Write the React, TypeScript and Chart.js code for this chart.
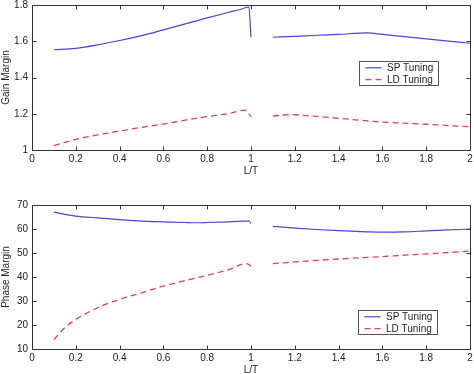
import React, { useEffect, useRef } from "react";
import { Chart, registerables } from "chart.js";

Chart.register(...registerables);

// ---------- data ----------
const gainSpX = [0.1, 0.2, 0.3, 0.4, 0.5, 0.6, 0.7, 0.8, 0.9, 0.95, 0.99, 1.0, 1.05, 1.1, 1.2, 1.3, 1.4, 1.53, 1.6, 1.7, 1.8, 1.9, 2.0];
const gainSpY = [1.553, 1.561, 1.58, 1.604, 1.631, 1.663, 1.696, 1.729, 1.76, 1.775, 1.789, 1.622, null, 1.622, 1.627, 1.633, 1.638, 1.646, 1.638, 1.625, 1.613, 1.601, 1.589];

const gainLdX = [0.1, 0.2, 0.3, 0.4, 0.5, 0.6, 0.7, 0.8, 0.9, 0.975, 1.0, 1.05, 1.1, 1.175, 1.3, 1.4, 1.5, 1.6, 1.7, 1.8, 1.9, 2.0];
const gainLdY = [1.024, 1.059, 1.083, 1.105, 1.125, 1.143, 1.165, 1.184, 1.202, 1.22, 1.184, null, 1.187, 1.195, 1.185, 1.175, 1.164, 1.154, 1.148, 1.142, 1.135, 1.128];

const phaseSpX = [0.1, 0.15, 0.2, 0.3, 0.4, 0.5, 0.6, 0.7, 0.75, 0.8, 0.9, 0.99, 1.0, 1.05, 1.1, 1.2, 1.3, 1.4, 1.5, 1.6, 1.7, 1.8, 1.9, 2.0];
const phaseSpY = [67.0, 66.1, 65.4, 64.6, 63.9, 63.3, 63.0, 62.7, 62.6, 62.7, 63.0, 63.4, 62.2, null, 61.1, 60.4, 59.8, 59.3, 58.9, 58.7, 58.8, 59.2, 59.6, 60.0];

const phaseLdX = [0.1, 0.15, 0.2, 0.3, 0.4, 0.5, 0.6, 0.7, 0.8, 0.9, 0.98, 1.0, 1.05, 1.1, 1.2, 1.3, 1.4, 1.5, 1.6, 1.7, 1.8, 1.9, 2.0];
const phaseLdY = [13.9, 18.9, 22.3, 27.2, 30.7, 33.4, 36.2, 38.5, 40.7, 43.1, 45.6, 44.6, null, 45.6, 46.3, 46.9, 47.5, 48.0, 48.5, 49.1, 49.6, 50.2, 50.8];

const seriesLabels = ["SP Tuning", "LD Tuning"];
const xTitle = "L/T";
const gainTitle = "Gain Margin";
const phaseTitle = "Phase Margin";

// ---------- styles ----------
const FONT = "'Liberation Sans', Arial, Helvetica, sans-serif";
const TEXT = "#222222";
const AXIS = "#333333";
const BLUE = "rgb(70,70,222)";
const RED = "rgb(228,62,88)";

const pts = (xs: number[], ys: (number | null)[]) => xs.map((x, i) => ({ x, y: ys[i] }));

const framePlugin = {
  id: "frame",
  afterDatasetsDraw(chart: any) {
    const { ctx, chartArea } = chart;
    const { left, top, right, bottom } = chartArea;
    const xs = chart.scales.x;
    const ys = chart.scales.y;
    const L = 4;
    ctx.save();
    ctx.strokeStyle = AXIS;
    ctx.lineWidth = 1;
    ctx.beginPath();
    const r = (v: number) => Math.round(v) + 0.5;
    ctx.rect(r(left), r(top), Math.round(right) - Math.round(left), Math.round(bottom) - Math.round(top));
    xs.ticks.forEach((t: any) => {
      const px = r(xs.getPixelForValue(t.value));
      ctx.moveTo(px, r(bottom));
      ctx.lineTo(px, r(bottom) - L);
      ctx.moveTo(px, r(top));
      ctx.lineTo(px, r(top) + L);
    });
    ys.ticks.forEach((t: any) => {
      const py = r(ys.getPixelForValue(t.value));
      ctx.moveTo(r(left), py);
      ctx.lineTo(r(left) + L, py);
      ctx.moveTo(r(right), py);
      ctx.lineTo(r(right) - L, py);
    });
    ctx.stroke();
    ctx.restore();
  },
};

const boxLegendPlugin = {
  id: "boxLegend",
  afterDraw(chart: any, _args: any, opts: any) {
    const { ctx, chartArea } = chart;
    const w = 79;
    const h = 24;
    const boxRight = chartArea.right - opts.right;
    const left = Math.round(boxRight - w) + 0.5;
    const top =
      opts.top !== undefined
        ? Math.round(chartArea.top + opts.top) + 0.5
        : Math.round(chartArea.bottom - opts.bottom - h) + 0.5;
    ctx.save();
    ctx.fillStyle = "#ffffff";
    ctx.fillRect(left, top, w, h);
    ctx.strokeStyle = "#555555";
    ctx.lineWidth = 1;
    ctx.strokeRect(left, top, w, h);
    chart.data.datasets.forEach((ds: any, i: number) => {
      const y = top + 6.3 + i * 11.8;
      ctx.beginPath();
      ctx.strokeStyle = ds.borderColor;
      ctx.lineWidth = ds.borderWidth;
      ctx.setLineDash(ds.borderDash || []);
      ctx.moveTo(left + 6, y);
      ctx.lineTo(left + 22, y);
      ctx.stroke();
      ctx.setLineDash([]);
      ctx.fillStyle = TEXT;
      ctx.font = `10px ${FONT}`;
      ctx.textBaseline = "middle";
      ctx.textAlign = "left";
      ctx.fillText(ds.label, left + 27.5, y + 0.5);
    });
    ctx.restore();
  },
};

function makeConfig(opts: {
  sp: { x: number; y: number | null }[];
  ld: { x: number; y: number | null }[];
  yMin: number;
  yMax: number;
  yStep: number;
  yTitle: string;
  padTop: number;
  padBottom: number;
  legend: any;
}) {
  const fmt = (v: any) => String(Math.round(Number(v) * 100) / 100);
  return {
    type: "line" as const,
    data: {
      datasets: [
        {
          label: seriesLabels[0],
          data: opts.sp,
          borderColor: BLUE,
          borderWidth: 1.2,
          pointRadius: 0,
          spanGaps: false,
          fill: false,
          cubicInterpolationMode: "monotone" as const,
        },
        {
          label: seriesLabels[1],
          data: opts.ld,
          borderColor: RED,
          borderWidth: 1.3,
          borderDash: [6, 4],
          pointRadius: 0,
          spanGaps: false,
          fill: false,
          cubicInterpolationMode: "monotone" as const,
        },
      ],
    },
    options: {
      animation: false as const,
      responsive: false,
      maintainAspectRatio: false,
      layout: { padding: { top: opts.padTop, bottom: opts.padBottom, left: 0, right: 4 } },
      plugins: {
        legend: { display: false },
        tooltip: { enabled: false },
        boxLegend: opts.legend,
      },
      scales: {
        x: {
          type: "linear" as const,
          min: 0,
          max: 2,
          ticks: {
            stepSize: 0.2,
            padding: 3,
            color: TEXT,
            font: { family: FONT, size: 10 },
            callback: fmt,
            maxRotation: 0,
            autoSkip: false,
          },
          grid: { display: false, drawTicks: false },
          border: { display: false },
          title: { display: true, text: xTitle, color: TEXT, font: { family: FONT, size: 10 }, padding: 0 },
          afterFit: (s: any) => {
            s.height = 27;
            s.paddingLeft = 0;
            s.paddingRight = 0;
          },
        },
        y: {
          type: "linear" as const,
          min: opts.yMin,
          max: opts.yMax,
          ticks: {
            stepSize: opts.yStep,
            padding: 4,
            color: TEXT,
            font: { family: FONT, size: 10 },
            callback: fmt,
            autoSkip: false,
          },
          grid: { display: false, drawTicks: false },
          border: { display: false },
          title: { display: true, text: opts.yTitle, color: TEXT, font: { family: FONT, size: 10 }, padding: 0 },
          afterFit: (s: any) => {
            s.width = 32;
            s.paddingTop = 0;
            s.paddingBottom = 0;
          },
        },
      },
    },
    plugins: [framePlugin, boxLegendPlugin],
  };
}

function ChartCanvas({ config, width, height, top }: { config: any; width: number; height: number; top: number }) {
  const ref = useRef<HTMLCanvasElement | null>(null);
  useEffect(() => {
    if (!ref.current) return;
    const chart = new Chart(ref.current, config);
    return () => chart.destroy();
  }, [config]);
  return (
    <canvas
      ref={ref}
      width={width}
      height={height}
      style={{ position: "absolute", left: 0, top, width, height, display: "block" }}
    />
  );
}

const gainConfig = makeConfig({
  sp: pts(gainSpX, gainSpY),
  ld: pts(gainLdX, gainLdY),
  yMin: 1,
  yMax: 1.8,
  yStep: 0.2,
  yTitle: gainTitle,
  padTop: 5,
  padBottom: 3,
  legend: { right: 32, top: 56 },
});

const phaseConfig = makeConfig({
  sp: pts(phaseSpX, phaseSpY),
  ld: pts(phaseLdX, phaseLdY),
  yMin: 10,
  yMax: 70,
  yStep: 10,
  yTitle: phaseTitle,
  padTop: 18,
  padBottom: 0,
  legend: { right: 33, bottom: 15 },
});

export default function App() {
  return (
    <div
      style={{
        position: "absolute",
        left: 0,
        top: 0,
        width: 474,
        height: 374,
        overflow: "hidden",
        background: "#ffffff",
      }}
    >
      <ChartCanvas config={gainConfig} width={474} height={180} top={0} />
      <ChartCanvas config={phaseConfig} width={474} height={189} top={187} />
    </div>
  );
}
